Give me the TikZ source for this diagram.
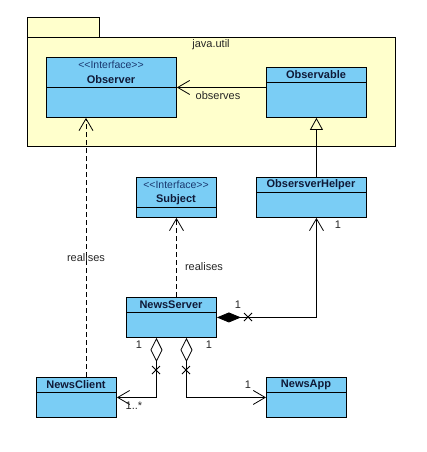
\documentclass[tikz,border=0pt]{standalone}
\usepackage{fontspec}
\setmainfont{Liberation Sans}
\usetikzlibrary{calc}
\usetikzlibrary{arrows.meta}
\usepackage{xcolor}
\definecolor{pkgfill}{RGB}{255,255,204}
\definecolor{clsfill}{RGB}{122,205,245}
\definecolor{ttlcol}{RGB}{15,25,55}
\definecolor{stcol}{RGB}{25,55,110}

\tikzset{
 cls/.style={draw, fill=clsfill, anchor=north west, inner sep=0, line width=.9pt},
 ttl/.style={font=\bfseries\fontsize{11}{12}\selectfont, text=ttlcol, inner sep=0},
 stereo/.style={font=\fontsize{10.5}{12}\selectfont, text=stcol, inner sep=0},
 lbl/.style={font=\fontsize{11}{12}\selectfont, text=black!85, inner sep=0},
 opentip/.style={-{Straight Barb[length=12pt, width=14pt, line width=.8pt]}},
 cross/.style={line width=.8pt}
}

\begin{document}
\begin{tikzpicture}[x=1pt, y=-1pt, line width=.8pt]
\useasboundingbox (0,0) rectangle (426,452);
% package java.util
\draw[fill=pkgfill] (27,17) rectangle (99,37);
\draw[fill=pkgfill] (27,37) rectangle (395,146);
\node[lbl] (pkg) at (211,45) {java.util};

% classes
\node[cls, minimum width=130, minimum height=60] (obsr) at (46,57) {};
\node[cls, minimum width=100, minimum height=50] (obsl) at (266,67) {};
\node[cls, minimum width=80, minimum height=40] (subj) at (136,177) {};
\node[cls, minimum width=110, minimum height=40] (helper) at (256,177) {};
\node[cls, minimum width=90, minimum height=40] (server) at (126,297) {};
\node[cls, minimum width=80, minimum height=40] (client) at (36,377) {};
\node[cls, minimum width=80, minimum height=40] (app) at (266,377) {};

% dividers
\draw (obsr.north west) ++(0,30) -- ++(130,0);
\draw (obsl.north west) ++(0,15) -- ++(100,0);
\draw (subj.north west) ++(0,30) -- ++(80,0);
\draw (helper.north west) ++(0,15) -- ++(110,0);
\draw (server.north west) ++(0,15) -- ++(90,0);
\draw (client.north west) ++(0,15) -- ++(80,0);
\draw (app.north west) ++(0,15) -- ++(80,0);

% titles
\node[stereo] at (111,65) {<{}<Interface>{}>};
\node[ttl] at (111,80) {Observer};
\node[ttl] at (316,75) {Observable};
\node[stereo] at (176,185) {<{}<Interface>{}>};
\node[ttl] at (176,200) {Subject};
\node[ttl] at (311,185) {ObsersverHelper};
\node[ttl] at (171,305) {NewsServer};
\node[ttl] at (76,385) {NewsClient};
\node[ttl] at (306,385) {NewsApp};

% observes
\draw[opentip] (obsl.west |- obsr.east) -- (obsr.east);
\node[lbl] at (218,96) {observes};

% generalization
\draw[-{Triangle[open, length=12pt, width=13pt, line width=.8pt]}] (helper.north -| obsl.south) -- (obsl.south);

% realisations
\draw[opentip, dashed, dash pattern=on 5pt off 3pt] ($(client.north west)+(50,0)$) -- ($(obsr.south west)+(40,0)$);
\node[lbl] at (86,258) {realises};
\draw[opentip, dashed, dash pattern=on 5pt off 3pt] (server.north -| subj.south) -- (subj.south);
\node[lbl] at (204,267) {realises};

% composition with helper
\coordinate (hk) at ($(helper.south)+(5,0)$);
\draw[{Diamond[length=24pt, width=10pt]}-{Straight Barb[length=12pt, width=14pt, line width=.8pt]}] (server.east) -| (hk);
\draw[cross] (248,317) +(-4,-4) -- +(4,4) +(-4,4) -- +(4,-4);
\node[lbl] at (238,305) {1};
\node[lbl] at (338,225) {1};

% aggregations
\coordinate (ak) at ($(server.south)+(-15,0)$);
\coordinate (bk) at ($(server.south)+(15,0)$);
\draw[{Diamond[open, length=24pt, width=12pt]}-{Straight Barb[length=12pt, width=14pt, line width=.8pt]}] (ak) |- (client.east);
\draw[{Diamond[open, length=24pt, width=12pt]}-{Straight Barb[length=12pt, width=14pt, line width=.8pt]}] (bk) |- (app.west);
\foreach \x in {156,186} {
 \draw[cross] (\x,370) +(-4,-4) -- +(4,4) +(-4,4) -- +(4,-4);
}
\node[lbl] at (139,345) {1};
\node[lbl] at (209,345) {1};
\node[lbl] at (248,385) {1};
\node[lbl] at (134,406) {1..*};
\end{tikzpicture}
\end{document}
